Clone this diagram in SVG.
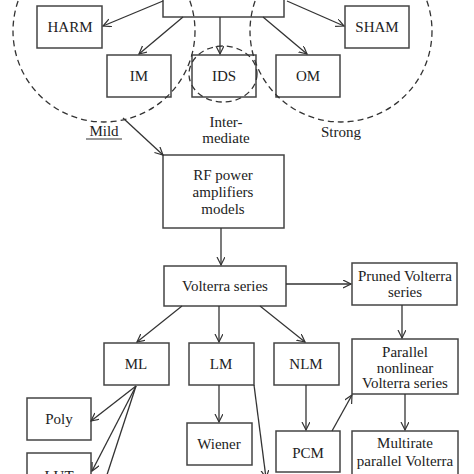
<svg xmlns="http://www.w3.org/2000/svg" width="474" height="474" viewBox="0 0 474 474">
<defs>
<marker id="ah" markerWidth="10" markerHeight="10" refX="8" refY="4" orient="auto" markerUnits="userSpaceOnUse">
<path d="M0,0 L8,4 L0,8" fill="none" stroke="#333" stroke-width="1.2"/>
</marker>
<style>
.box{fill:#fff;stroke:#444;stroke-width:1.5}
.t{font-family:"Liberation Serif","Times New Roman",serif;font-size:15px;fill:#222;text-anchor:middle}
.c{stroke:#333;stroke-width:1.3;fill:none;marker-end:url(#ah)}
.l{stroke:#333;stroke-width:1.3;fill:none}
.d{stroke:#333;stroke-width:1.3;fill:none;stroke-dasharray:6,4}
</style>
</defs>
<rect width="474" height="474" fill="#fff"/>
<g id="top"><rect class="box" x="163" y="-20" width="121" height="37"/></g>
<g id="harm"><rect class="box" x="37" y="6" width="65" height="42"/><text class="t" x="70" y="32">HARM</text></g>
<g id="sham"><rect class="box" x="345" y="6" width="64" height="42"/><text class="t" x="377" y="32">SHAM</text></g>
<g id="im"><rect class="box" x="107" y="55" width="64" height="42"/><text class="t" x="139" y="81">IM</text></g>
<g id="ids"><rect class="box" x="192" y="55" width="64" height="42"/><text class="t" x="224" y="81">IDS</text></g>
<g id="om"><rect class="box" x="276" y="55" width="64" height="42"/><text class="t" x="308" y="81">OM</text></g>
<g id="regions">
<circle class="d" cx="104" cy="31" r="91"/>
<circle class="d" cx="341" cy="31" r="91"/>
<ellipse class="d" cx="223" cy="74" rx="34" ry="28"/>
<text class="t" x="104" y="136">Mild</text>
<line x1="86" y1="139" x2="122" y2="139" stroke="#333" stroke-width="1.2"/>
<text class="t" x="226" y="127">Inter-</text>
<text class="t" x="226" y="143">mediate</text>
<text class="t" x="341" y="137">Strong</text>
</g>
<g id="rf"><rect class="box" x="163" y="155" width="121" height="73"/><text class="t" x="223" y="180">RF power</text><text class="t" x="223" y="197">amplifiers</text><text class="t" x="223" y="214">models</text></g>
<g id="volterra"><rect class="box" x="164" y="266" width="122" height="40"/><text class="t" x="225" y="291">Volterra series</text></g>
<g id="pruned"><rect class="box" x="352" y="263" width="105" height="42"/><text class="t" x="405" y="281">Pruned Volterra</text><text class="t" x="405" y="297">series</text></g>
<g id="parallel"><rect class="box" x="352" y="339" width="106" height="55"/><text class="t" x="405" y="357">Parallel</text><text class="t" x="405" y="373">nonlinear</text><text class="t" x="405" y="388">Volterra series</text></g>
<g id="ml"><rect class="box" x="104" y="343" width="65" height="42"/><text class="t" x="136" y="369">ML</text></g>
<g id="lm"><rect class="box" x="189" y="343" width="65" height="42"/><text class="t" x="221" y="369">LM</text></g>
<g id="nlm"><rect class="box" x="274" y="343" width="65" height="42"/><text class="t" x="306" y="369">NLM</text></g>
<g id="poly"><rect class="box" x="27" y="398" width="64" height="42"/><text class="t" x="59" y="424">Poly</text></g>
<g id="lut"><rect class="box" x="27" y="453" width="64" height="42"/><text class="t" x="59" y="481">LUT</text></g>
<g id="wiener"><rect class="box" x="187" y="423" width="65" height="42"/><text class="t" x="219" y="449">Wiener</text></g>
<g id="pcm"><rect class="box" x="276" y="431" width="64" height="41"/><text class="t" x="308" y="458">PCM</text></g>
<g id="multirate"><rect class="box" x="352" y="431" width="106" height="55"/><text class="t" x="405" y="448">Multirate</text><text class="t" x="405" y="466">parallel Volterra</text><text class="t" x="405" y="484">series</text></g>
<g id="connectors">
<line class="c" x1="163" y1="1" x2="103" y2="26"/>
<line class="c" x1="183" y1="17" x2="139" y2="54"/>
<line class="c" x1="220" y1="17" x2="220" y2="54"/>
<line class="c" x1="263" y1="17" x2="307" y2="54"/>
<line class="c" x1="287" y1="1" x2="344" y2="26"/>
<line class="c" x1="123" y1="118" x2="163" y2="155"/>
<line class="c" x1="221" y1="228" x2="221" y2="265"/>
<line class="c" x1="286" y1="284" x2="351" y2="284"/>
<line class="c" x1="402" y1="305" x2="402" y2="338"/>
<line class="c" x1="182" y1="306" x2="137" y2="342"/>
<line class="c" x1="219" y1="306" x2="219" y2="342"/>
<line class="c" x1="260" y1="306" x2="305" y2="342"/>
<line class="c" x1="136" y1="386" x2="91" y2="421"/>
<line class="c" x1="136" y1="386" x2="92" y2="471"/>
<line class="c" x1="136" y1="386" x2="102" y2="490"/>
<line class="c" x1="219" y1="385" x2="219" y2="422"/>
<line class="c" x1="254" y1="385" x2="266" y2="478"/>
<line class="c" x1="306" y1="385" x2="306" y2="430"/>
<line class="c" x1="332" y1="431" x2="352" y2="395"/>
<line class="c" x1="405" y1="394" x2="405" y2="430"/>
</g>
</svg>
